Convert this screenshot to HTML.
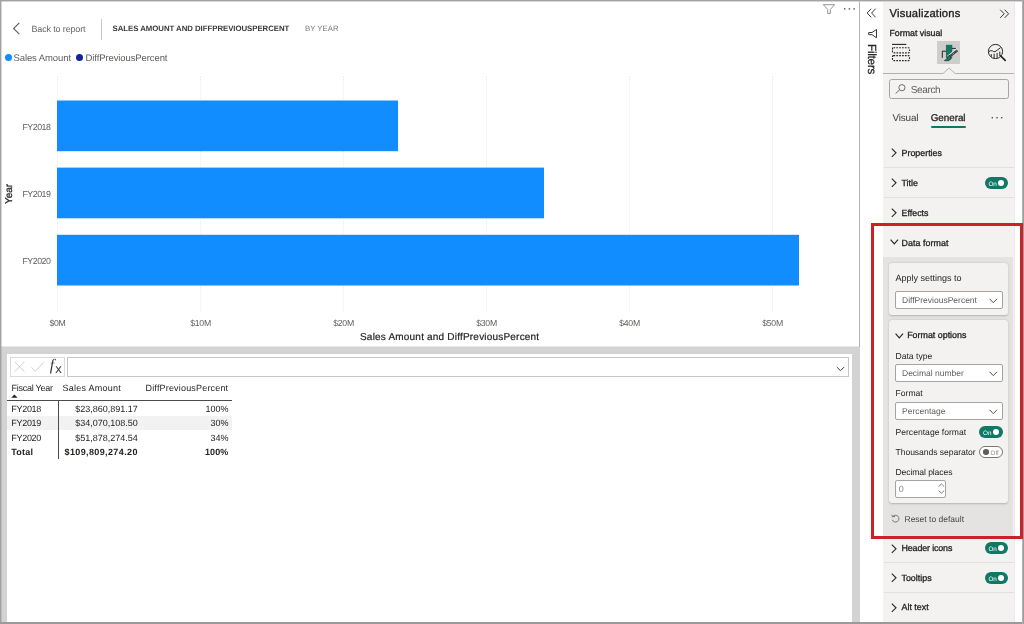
<!DOCTYPE html>
<html lang="en">
<head>
<meta charset="utf-8">
<title>Power BI - Data format</title>
<style>
*{box-sizing:border-box;margin:0;padding:0}
html,body{width:1024px;height:624px;overflow:hidden;background:#fff}
body{position:relative;font-family:"Liberation Sans",sans-serif;color:#252423}
.abs{position:absolute}
.t{position:absolute;white-space:nowrap;line-height:1}
/* outer frame */
#frame{left:0;top:0;width:1024px;height:624px;border-style:solid;border-color:#a3a3a3;border-width:2px 2px 2px 2px;z-index:50;pointer-events:none}
/* canvas */
#canvasbg{left:1px;top:347px;width:859px;height:276px;background:#d3d3d3;box-shadow:0 -1px 0 rgba(211,211,211,.55)}
#canvasline{left:859px;top:2px;width:1px;height:345px;background:#b2b2b2}
#lower{left:7px;top:354px;width:845px;height:268px;background:#fff}
.bar{position:absolute;left:57px;height:51px;background:#118dff}
.grid{position:absolute;top:76px;width:0;height:236px;border-left:1px dotted #ececec}
.ax{font-size:8.7px;color:#605e5c;transform:translateX(-50%);top:318.6px;letter-spacing:-0.25px}
.yl{font-size:8.8px;color:#605e5c;left:22.5px;letter-spacing:-0.5px}
/* table */
.th{font-size:9px;color:#252423;letter-spacing:-0.25px;top:383.6px}
.td{font-size:9px;color:#252423;letter-spacing:0}
.r{text-align:right}
/* viz pane */
#pane{left:883px;top:2px;width:132px;height:620px;background:#f3f2f1;border-right:1px solid #ebeae9}
.sep{position:absolute;left:884px;width:130px;height:1px;background:#e3e1df}
.sec{font-size:8.9px;color:#252423;left:901.5px;-webkit-text-stroke:0.3px #252423;letter-spacing:0px}
.lbl{font-size:8.6px;color:#252423;left:895.5px}
.dd{position:absolute;left:895px;width:108px;height:17.5px;background:#fff;border:1px solid #a6a4a2;border-radius:2px}
.dd span{position:absolute;left:6px;top:4.2px;font-size:8.5px;line-height:1;color:#605e5c;white-space:nowrap}
.dd svg{position:absolute;left:93px;top:5.5px}
.tog{position:absolute;width:23.5px;height:12px;border-radius:6px;background:#117865}
.tog i{position:absolute;left:13.6px;top:3.2px;width:5.8px;height:5.8px;border-radius:50%;background:#fff}
.tog b{position:absolute;left:3.7px;top:4.9px;font-size:6.3px;line-height:1;color:#fff;font-weight:400;letter-spacing:-0.1px}
.card{position:absolute;left:889px;width:119px;background:#f3f2f1;border-radius:3px;box-shadow:0 0.5px 2px rgba(0,0,0,.22)}
</style>
</head>
<body>
<div id="root" style="position:absolute;left:0;top:0;width:1024px;height:624px;will-change:transform;text-rendering:geometricPrecision">
<!-- ===== canvas background ===== -->
<div class="abs" id="canvasbg"></div>
<div class="abs" id="canvasline"></div>
<div class="abs" id="lower"></div>

<!-- ===== chart header ===== -->
<svg class="abs" style="left:12px;top:22px" width="9" height="13" viewBox="0 0 9 13"><path d="M7.3 0.8 L1.6 6.5 L7.3 12.2" fill="none" stroke="#605e5c" stroke-width="1.1"/></svg>
<div class="t" style="left:31.5px;top:25.1px;font-size:9px;color:#666;letter-spacing:-0.15px">Back to report</div>
<div class="abs" style="left:101px;top:19px;width:1px;height:21px;background:#c8c8c8"></div>
<div class="t" id="ttl" style="left:112.5px;top:24.6px;font-size:7.8px;font-weight:700;color:#3b3a39;letter-spacing:-0.03px">SALES AMOUNT AND DIFFPREVIOUSPERCENT</div>
<div class="t" id="byyear" style="left:305px;top:24.6px;font-size:7.8px;color:#777;letter-spacing:0.0px">BY YEAR</div>
<!-- filter + more icons -->
<svg class="abs" style="left:822px;top:3px" width="14" height="12" viewBox="0 0 14 12"><path d="M1.3 1.7 H12.7 L8.3 6.4 V10.6 H5.7 V6.4 Z" fill="none" stroke="#8a8886" stroke-width="0.9" stroke-linejoin="round"/></svg>
<svg class="abs" style="left:843px;top:7px" width="13" height="4" viewBox="0 0 13 4"><circle cx="1.7" cy="1.8" r="0.85" fill="#605e5c"/><circle cx="6.4" cy="1.8" r="0.85" fill="#605e5c"/><circle cx="11.1" cy="1.8" r="0.85" fill="#605e5c"/></svg>

<!-- legend -->
<div class="abs" style="left:4.7px;top:54px;width:7px;height:7px;border-radius:50%;background:#118dff"></div>
<div class="t" style="left:13.5px;top:53.9px;font-size:9.5px;color:#605e5c;letter-spacing:-0.1px">Sales Amount</div>
<div class="abs" style="left:76px;top:54px;width:7px;height:7px;border-radius:50%;background:#12239e"></div>
<div class="t" style="left:85.5px;top:53.9px;font-size:9.5px;color:#605e5c;letter-spacing:-0.1px">DiffPreviousPercent</div>

<!-- gridlines -->
<div class="grid" style="left:57px"></div>
<div class="grid" style="left:200px"></div>
<div class="grid" style="left:343px"></div>
<div class="grid" style="left:486px"></div>
<div class="grid" style="left:629px"></div>
<div class="grid" style="left:772px"></div>
<!-- bars -->
<div class="bar" style="top:101px;width:341px;height:50px"></div><div class="bar" style="top:100px;width:341px;height:1px;opacity:.5"></div><div class="bar" style="top:151px;width:341px;height:1px;opacity:.2"></div>
<div class="bar" style="top:168px;width:487px;height:50px"></div><div class="bar" style="top:167px;width:487px;height:1px;opacity:.4"></div><div class="bar" style="top:218px;width:487px;height:1px;opacity:.3"></div>
<div class="bar" style="top:235px;width:742px;height:50px"></div><div class="bar" style="top:234px;width:742px;height:1px;opacity:.2"></div><div class="bar" style="top:285px;width:742px;height:1px;opacity:.5"></div>
<!-- y labels -->
<div class="t yl" style="top:122.7px">FY2018</div>
<div class="t yl" style="top:189.5px">FY2019</div>
<div class="t yl" style="top:256.9px">FY2020</div>
<div class="t" style="left:-1.9px;top:189px;font-size:10px;color:#252423;transform:rotate(-90deg);transform-origin:center;width:24px;text-align:center;-webkit-text-stroke:0.3px #252423">Year</div>
<!-- x labels -->
<div class="t ax" style="left:57.5px">$0M</div>
<div class="t ax" style="left:200.5px">$10M</div>
<div class="t ax" style="left:343.5px">$20M</div>
<div class="t ax" style="left:486.5px">$30M</div>
<div class="t ax" style="left:629.5px">$40M</div>
<div class="t ax" style="left:772.5px">$50M</div>
<div class="t" style="left:360px;top:332.65px;font-size:10px;color:#252423;letter-spacing:0.2px;-webkit-text-stroke:0.2px #252423">Sales Amount and DiffPreviousPercent</div>

<!-- ===== formula bar ===== -->
<div class="abs" style="left:10px;top:356.5px;width:55px;height:20.5px;border:1px solid #dadada;background:#fff"></div>
<svg class="abs" style="left:14px;top:360px" width="48" height="14" viewBox="0 0 48 14">
<path d="M0.8 2 L10.3 11.5 M10.3 2 L0.8 11.5" stroke="#c8c8c8" stroke-width="0.9" fill="none"/>
<path d="M17.5 7.5 L21.3 11.3 L29.8 2.3" stroke="#c8c8c8" stroke-width="0.9" fill="none"/>
</svg>
<div class="t" style="left:49.8px;top:358.4px;font-size:16px;font-family:'Liberation Serif',serif;font-style:italic;color:#3b3a39">f</div>
<div class="t" style="left:55.2px;top:361.5px;font-size:13px;color:#3b3a39">x</div>
<div class="abs" style="left:67px;top:356.5px;width:782px;height:20.5px;border:1px solid #c6c6c6;background:#fff"></div>
<svg class="abs" style="left:836px;top:366px" width="9" height="6" viewBox="0 0 9 6"><path d="M0.8 1 L4.5 4.7 L8.2 1" fill="none" stroke="#444" stroke-width="1"/></svg>

<!-- ===== table ===== -->
<div class="abs" style="left:7px;top:415.5px;width:225px;height:14.5px;background:#f2f2f2"></div>
<div class="t th" style="left:11.5px">Fiscal Year</div>
<div class="t th" style="left:62.5px;letter-spacing:0.25px">Sales Amount</div>
<div class="t th r" style="left:100px;width:128.3px;letter-spacing:0.18px">DiffPreviousPercent</div>
<svg class="abs" style="left:11px;top:394px" width="7" height="4" viewBox="0 0 7 4"><path d="M0.2 3.8 L3.4 0.5 L6.6 3.8 Z" fill="#252423"/></svg>
<div class="abs" style="left:7px;top:400px;width:225px;height:1px;background:#4a4a4a"></div>
<div class="abs" style="left:58px;top:400px;width:1px;height:58.5px;background:#4a4a4a"></div>

<div class="t td" style="left:11.3px;top:404.5px;letter-spacing:-0.3px">FY2018</div>
<div class="t td" style="left:11.3px;top:419px;letter-spacing:-0.3px">FY2019</div>
<div class="t td" style="left:11.3px;top:433.5px;letter-spacing:-0.3px">FY2020</div>
<div class="t td" style="left:11.3px;top:448.1px;font-weight:700;letter-spacing:0.2px">Total</div>
<div class="t td r" style="left:60px;width:77.8px;top:404.5px">$23,860,891.17</div>
<div class="t td r" style="left:60px;width:77.8px;top:419px">$34,070,108.50</div>
<div class="t td r" style="left:60px;width:77.8px;top:433.5px">$51,878,274.54</div>
<div class="t td r" style="left:60px;width:77.8px;top:448.1px;font-weight:700;letter-spacing:0.38px">$109,809,274.20</div>
<div class="t td r" style="left:150px;width:78.5px;top:404.5px">100%</div>
<div class="t td r" style="left:150px;width:78.5px;top:419px">30%</div>
<div class="t td r" style="left:150px;width:78.5px;top:433.5px">34%</div>
<div class="t td r" style="left:150px;width:78.5px;top:448.1px;font-weight:700;letter-spacing:0.15px">100%</div>

<!-- ===== filters pane (collapsed) ===== -->
<svg class="abs" style="left:866px;top:8px" width="11" height="10" viewBox="0 0 11 10"><path d="M5.2 0.7 L1.2 5 L5.2 9.3 M9.6 0.7 L5.6 5 L9.6 9.3" fill="none" stroke="#3b3a39" stroke-width="1"/></svg>
<svg class="abs" style="left:867px;top:28px" width="11" height="11" viewBox="0 0 11 11"><path d="M9.5 1.4 V9.8 L5 6.7 H1.7 V4.5 H5 Z" fill="none" stroke="#3b3a39" stroke-width="1" stroke-linejoin="round"/></svg>
<div class="t" style="left:876.8px;top:44px;font-size:11.8px;color:#252423;transform:rotate(90deg);transform-origin:0 0;letter-spacing:-0.28px;-webkit-text-stroke:0.25px #252423">Filters</div>

<!-- ===== visualizations pane ===== -->
<div class="abs" id="pane"></div>
<div class="t" style="left:889.5px;top:9.3px;font-size:11.2px;color:#252423;-webkit-text-stroke:0.35px #252423;letter-spacing:0.2px">Visualizations</div>
<svg class="abs" style="left:999px;top:9px" width="11" height="10" viewBox="0 0 11 10"><path d="M1.2 0.7 L5.2 4.8 L1.2 8.9 M5.6 0.7 L9.6 4.8 L5.6 8.9" fill="none" stroke="#3b3a39" stroke-width="1"/></svg>
<div class="t" style="left:889.5px;top:29px;font-size:8.8px;color:#252423;-webkit-text-stroke:0.3px #252423;letter-spacing:0px">Format visual</div>

<!-- build icon -->
<svg class="abs" style="left:891px;top:43px" width="20" height="20" viewBox="0 0 20 20">
<path d="M1 1.4 H15.3" stroke="#252423" stroke-width="1.1" fill="none"/>
<rect x="1.5" y="4.7" width="17" height="5.2" rx="1" fill="none" stroke="#252423" stroke-width="1.1" stroke-dasharray="1.7 1.15"/>
<rect x="1.5" y="12.6" width="17" height="5" rx="1" fill="none" stroke="#252423" stroke-width="1.1" stroke-dasharray="1.7 1.15"/>
</svg>
<!-- format icon (selected) -->
<div class="abs" style="left:937.3px;top:41.2px;width:23.2px;height:22.5px;background:#cfcdcb"></div>
<svg class="abs" style="left:937px;top:41px" width="24" height="23" viewBox="0 0 24 23">
<path d="M9.1 10.2 H5.3 V16.8" fill="none" stroke="#252423" stroke-width="1"/>
<path d="M15 7.4 H18.9" fill="none" stroke="#252423" stroke-width="1"/>
<rect x="9.2" y="4.1" width="5.8" height="12.6" fill="#117865" stroke="#0d5c4d" stroke-width="0.5"/>
<path d="M20.6 8.6 L11.2 16.4" stroke="#e8e7e6" stroke-width="3.6" fill="none"/>
<path d="M20.4 9.3 L12.6 15.6" stroke="#252423" stroke-width="2.3" fill="none"/>
<path d="M19.6 9.95 L13.2 15.1" stroke="#fff" stroke-width="0.8" stroke-dasharray="0.9 0.8" fill="none"/>
<path d="M12.4 14.2 L14.6 16.9 Q12.6 20.8 7.4 19.5 Q10.4 18.4 10.8 15.5 Z" fill="#117865" stroke="#252423" stroke-width="0.6" stroke-linejoin="round"/>
</svg>
<!-- analytics icon -->
<svg class="abs" style="left:987px;top:43px" width="20" height="20" viewBox="0 0 20 20">
<circle cx="8.5" cy="8.5" r="7.1" fill="none" stroke="#252423" stroke-width="1"/>
<path d="M13.6 12.9 L18.2 17.3" stroke="#252423" stroke-width="1.7" stroke-linecap="round"/>
<path d="M1.6 8.8 Q3.8 7.1 5.4 7.8 Q6.8 9.1 8 8.7 L13.6 4.7" fill="none" stroke="#252423" stroke-width="0.95"/>
<path d="M4.3 11.2 V13.7 M7.1 10.7 V15.1 M10.1 9.9 V14.9 M12.8 8.5 V12.9" stroke="#252423" stroke-width="1"/>
</svg>
<!-- separator with notch -->
<svg class="abs" style="left:883px;top:66px" width="132" height="9" viewBox="0 0 132 9"><path d="M0 7.5 H60 L66.1 2 L72.2 7.5 H131" fill="none" stroke="#b3b0ad" stroke-width="1"/></svg>

<!-- search -->
<div class="abs" style="left:889.2px;top:79.2px;width:119.4px;height:19.4px;border:1px solid #a6a4a2;border-radius:2.5px;background:#f4f3f2"></div>
<svg class="abs" style="left:895px;top:84px" width="11" height="10" viewBox="0 0 11 10"><circle cx="6.9" cy="3.7" r="3.1" fill="none" stroke="#605e5c" stroke-width="0.9"/><path d="M4.6 5.9 L0.6 9.5" stroke="#605e5c" stroke-width="0.9"/></svg>
<div class="t" style="left:910.7px;top:85.6px;font-size:10.1px;color:#605e5c;letter-spacing:-0.4px">Search</div>

<!-- tabs -->
<div class="t" style="left:892.5px;top:113.7px;font-size:9.9px;color:#3b3a39;letter-spacing:-0.15px">Visual</div>
<div class="t" style="left:930.7px;top:113.7px;font-size:9.9px;color:#252423;-webkit-text-stroke:0.3px #252423;letter-spacing:-0.05px">General</div>
<div class="abs" style="left:930.8px;top:126.1px;width:35.2px;height:2px;background:#117865;border-radius:1px"></div>
<svg class="abs" style="left:991px;top:116px" width="13" height="4" viewBox="0 0 13 4"><circle cx="1.3" cy="1.8" r="0.8" fill="#3b3a39"/><circle cx="6" cy="1.8" r="0.8" fill="#3b3a39"/><circle cx="10.7" cy="1.8" r="0.8" fill="#3b3a39"/></svg>

<!-- section rows -->
<svg width="0" height="0" style="position:absolute"><defs>
<path id="chR" d="M0.8 0.7 L5 4.8 L0.8 8.9" fill="none" stroke="#252423" stroke-width="1.1"/>
<path id="chD" d="M0.6 0.7 L4.3 4.8 L8 0.7" fill="none" stroke="#252423" stroke-width="1.15"/>
<path id="chD2" d="M0.6 0.8 L4.3 4.7 L8 0.8" fill="none" stroke="#484644" stroke-width="0.95"/>
</defs></svg>
<svg class="abs" style="left:891px;top:148.3px" width="7" height="10"><use href="#chR"/></svg>
<div class="t sec" style="top:149.4px">Properties</div>
<div class="sep" style="top:167px"></div>
<svg class="abs" style="left:891px;top:178.3px" width="7" height="10"><use href="#chR"/></svg>
<div class="t sec" style="top:178.7px">Title</div>
<div class="tog" style="left:984.8px;top:177px"><b>On</b><i></i></div>
<div class="sep" style="top:197px"></div>
<svg class="abs" style="left:891px;top:208.3px" width="7" height="10"><use href="#chR"/></svg>
<div class="t sec" style="top:208.9px">Effects</div>
<svg class="abs" style="left:889.5px;top:239.3px" width="9" height="6"><use href="#chD"/></svg>
<div class="t sec" style="top:238.6px;letter-spacing:0.05px">Data format</div>

<!-- expanded area -->
<div class="abs" style="left:883px;top:257px;width:130px;height:281px;background:#e4e3e1"></div>
<div class="card" style="top:262.7px;height:52px"></div>
<div class="t lbl" style="top:273.6px;font-size:9px">Apply settings to</div>
<div class="dd" style="top:291px"><span>DiffPreviousPercent</span><svg width="9" height="6"><use href="#chD2"/></svg></div>

<div class="card" style="top:320.2px;height:183px"></div>
<svg class="abs" style="left:895px;top:332.7px" width="9" height="6"><use href="#chD"/></svg>
<div class="t sec" style="left:907.2px;top:331.4px">Format options</div>
<div class="t lbl" style="top:351.6px">Data type</div>
<div class="dd" style="top:364.2px"><span>Decimal number</span><svg width="9" height="6"><use href="#chD2"/></svg></div>
<div class="t lbl" style="top:389.4px">Format</div>
<div class="dd" style="top:402px"><span>Percentage</span><svg width="9" height="6"><use href="#chD2"/></svg></div>
<div class="t lbl" style="top:427.9px">Percentage format</div>
<div class="tog" style="left:979.4px;top:426px"><b>On</b><i></i></div>
<div class="t lbl" style="top:448px;letter-spacing:-0.06px">Thousands separator</div>
<div class="tog" style="left:979.4px;top:446px;background:#fff;border:1px solid #797775"><i style="left:2.6px;top:2.2px;width:5.6px;height:5.6px;background:#605e5c"></i><b style="left:10.2px;top:3.6px;color:#8a8886">Off</b></div>
<div class="t lbl" style="top:468.3px;letter-spacing:-0.1px">Decimal places</div>
<div class="abs" style="left:895px;top:480.2px;width:50.6px;height:17.6px;background:#fff;border:1px solid #a6a4a2;border-radius:2px"></div>
<div class="t" style="left:898.8px;top:484.6px;font-size:9px;color:#8a8886">0</div>
<svg class="abs" style="left:937.6px;top:483.3px" width="7" height="12" viewBox="0 0 7 12"><path d="M0.6 3.6 L3.4 0.9 L6.2 3.6 M0.6 7.6 L3.4 10.3 L6.2 7.6" fill="none" stroke="#605e5c" stroke-width="0.8"/></svg>

<svg class="abs" style="left:891px;top:514px" width="9" height="9" viewBox="0 0 9 9"><path d="M1.8 2.6 A3.4 3.4 0 1 1 1.3 5.8" fill="none" stroke="#605e5c" stroke-width="0.8"/><path d="M0.6 0.8 L1.7 2.9 L4 2.3" fill="none" stroke="#605e5c" stroke-width="0.8"/></svg>
<div class="t" style="left:904.5px;top:514.6px;font-size:8.5px;color:#484644">Reset to default</div>

<svg class="abs" style="left:891px;top:543.5px" width="7" height="10"><use href="#chR"/></svg>
<div class="t sec" style="top:544.3px;letter-spacing:-0.13px">Header icons</div>
<div class="tog" style="left:984.8px;top:542.2px"><b>On</b><i></i></div>
<div class="sep" style="top:562px"></div>
<svg class="abs" style="left:891px;top:573.3px" width="7" height="10"><use href="#chR"/></svg>
<div class="t sec" style="top:573.5px">Tooltips</div>
<div class="tog" style="left:984.8px;top:572px"><b>On</b><i></i></div>
<div class="sep" style="top:592px"></div>
<svg class="abs" style="left:891px;top:603px" width="7" height="10"><use href="#chR"/></svg>
<div class="t sec" style="top:603.3px">Alt text</div>

<!-- red highlight box -->
<div class="abs" style="left:871px;top:223px;width:152px;height:316px;border:3px solid #cc2127;z-index:60"></div>


<div class="abs" style="left:0;top:0;width:1024px;height:1px;background:#a2a2a2;z-index:50"></div><div class="abs" style="left:0;top:1px;width:1024px;height:1px;background:rgba(150,150,150,0.38);z-index:50"></div>
<div class="abs" style="left:0;top:0;width:1px;height:624px;background:#a2a2a2;z-index:50"></div><div class="abs" style="left:1px;top:0;width:1px;height:624px;background:rgba(150,150,150,0.38);z-index:50"></div>
<div class="abs" style="left:0;top:621.8px;width:1024px;height:2.2px;background:#9a9a9a;z-index:50"></div>
<div class="abs" style="left:1021.6px;top:0;width:2.4px;height:624px;background:linear-gradient(90deg,#c4c4c4,#9c9c9c 60%);z-index:50"></div>
</div>
</body>
</html>
